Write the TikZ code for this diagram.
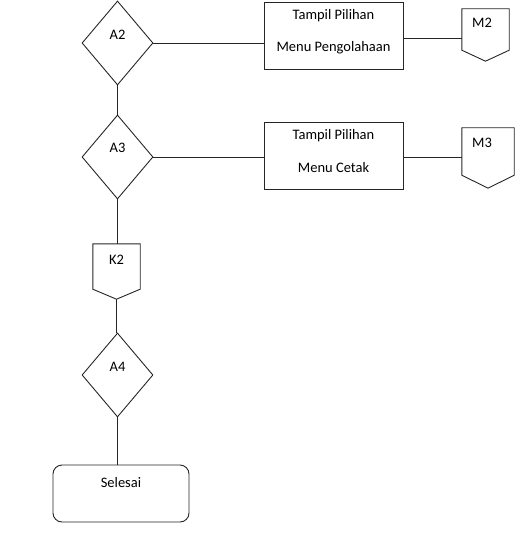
\documentclass[tikz,border=0pt]{standalone}
\usepackage{fontspec}
\setmainfont{Carlito}
\usetikzlibrary{shapes.geometric}
\begin{document}
\begin{tikzpicture}[x=1pt,y=-1pt,
  line/.style={draw=black!85, line width=0.9pt},
  dec/.style={diamond, line, minimum width=71pt, minimum height=84pt, inner sep=0pt, aspect=0.85},
  proc/.style={rectangle, line, minimum width=139pt, minimum height=67pt, inner sep=0pt},
  term/.style={rectangle, rounded corners=9pt, line, minimum width=136pt, minimum height=57pt, inner sep=0pt},
  hold/.style={rectangle, draw=none, inner sep=0pt},
  txt/.style={font=\fontsize{14.5}{17}\selectfont, inner sep=0pt}]
\useasboundingbox (0,0) rectangle (525,534);
% decisions
\node[dec] (a2) at (117.5,43) {};
\node[txt] (a2t) at (117.5,35) {A2};
\node[dec] (a3) at (117.5,157) {};
\node[txt] (a3t) at (117.5,148) {A3};
\node[dec] (a4) at (117.5,375) {};
\node[txt] (a4t) at (117.5,367) {A4};
% process boxes
\node[proc] (b1) at (333.5,35.5) {};
\node[txt] (b1a) at (333.5,16) {Tampil Pilihan};
\node[txt] (b1b) at (333.5,48) {Menu Pengolahaan};
\node[proc] (b2) at (333.5,155.5) {};
\node[txt] (b2a) at (333.5,136) {Tampil Pilihan};
\node[txt] (b2b) at (333.5,168) {Menu Cetak};
% off-page connectors
\node[hold, minimum width=47pt, minimum height=52pt] (m2) at (485.5,35) {};
\draw[line, line join=miter] (m2.north west) -- (m2.north east) -- ([yshift=11pt]m2.south east) -- (m2.south) -- ([yshift=11pt]m2.south west) -- cycle;
\node[txt] (m2t) at (482,23) {M2};
\node[hold, minimum width=52pt, minimum height=60pt] (m3) at (488,158) {};
\draw[line, line join=miter] (m3.north west) -- (m3.north east) -- ([yshift=13pt]m3.south east) -- (m3.south) -- ([yshift=13pt]m3.south west) -- cycle;
\node[txt] (m3t) at (482,143) {M3};
\node[hold, minimum width=47pt, minimum height=55pt] (k2) at (116.5,271.5) {};
\draw[line, line join=miter] (k2.north west) -- (k2.north east) -- ([yshift=10pt]k2.south east) -- (k2.south) -- ([yshift=10pt]k2.south west) -- cycle;
\node[txt] (k2t) at (116.5,260) {K2};
% terminator
\node[term] (sel) at (121,493.5) {};
\node[txt] (selt) at (121,483) {Selesai};
% connectors
\draw[line] (a2.east) -- (a2.east -| b1.west);
\draw[line] (b1.east |- 0,38) -- (m2.west |- 0,38);
\draw[line] (a3.east) -- (a3.east -| b2.west);
\draw[line] (b2.east |- 0,157) -- (m3.west |- 0,157);
\draw[line] (a2.south) -- (a3.north);
\draw[line] (a3.south) -- (a3.south |- k2.north);
\draw[line] (k2.south) -- (k2.south |- a4.north);
\draw[line] (a4.south) -- (a4.south |- sel.north);
\end{tikzpicture}
\end{document}
